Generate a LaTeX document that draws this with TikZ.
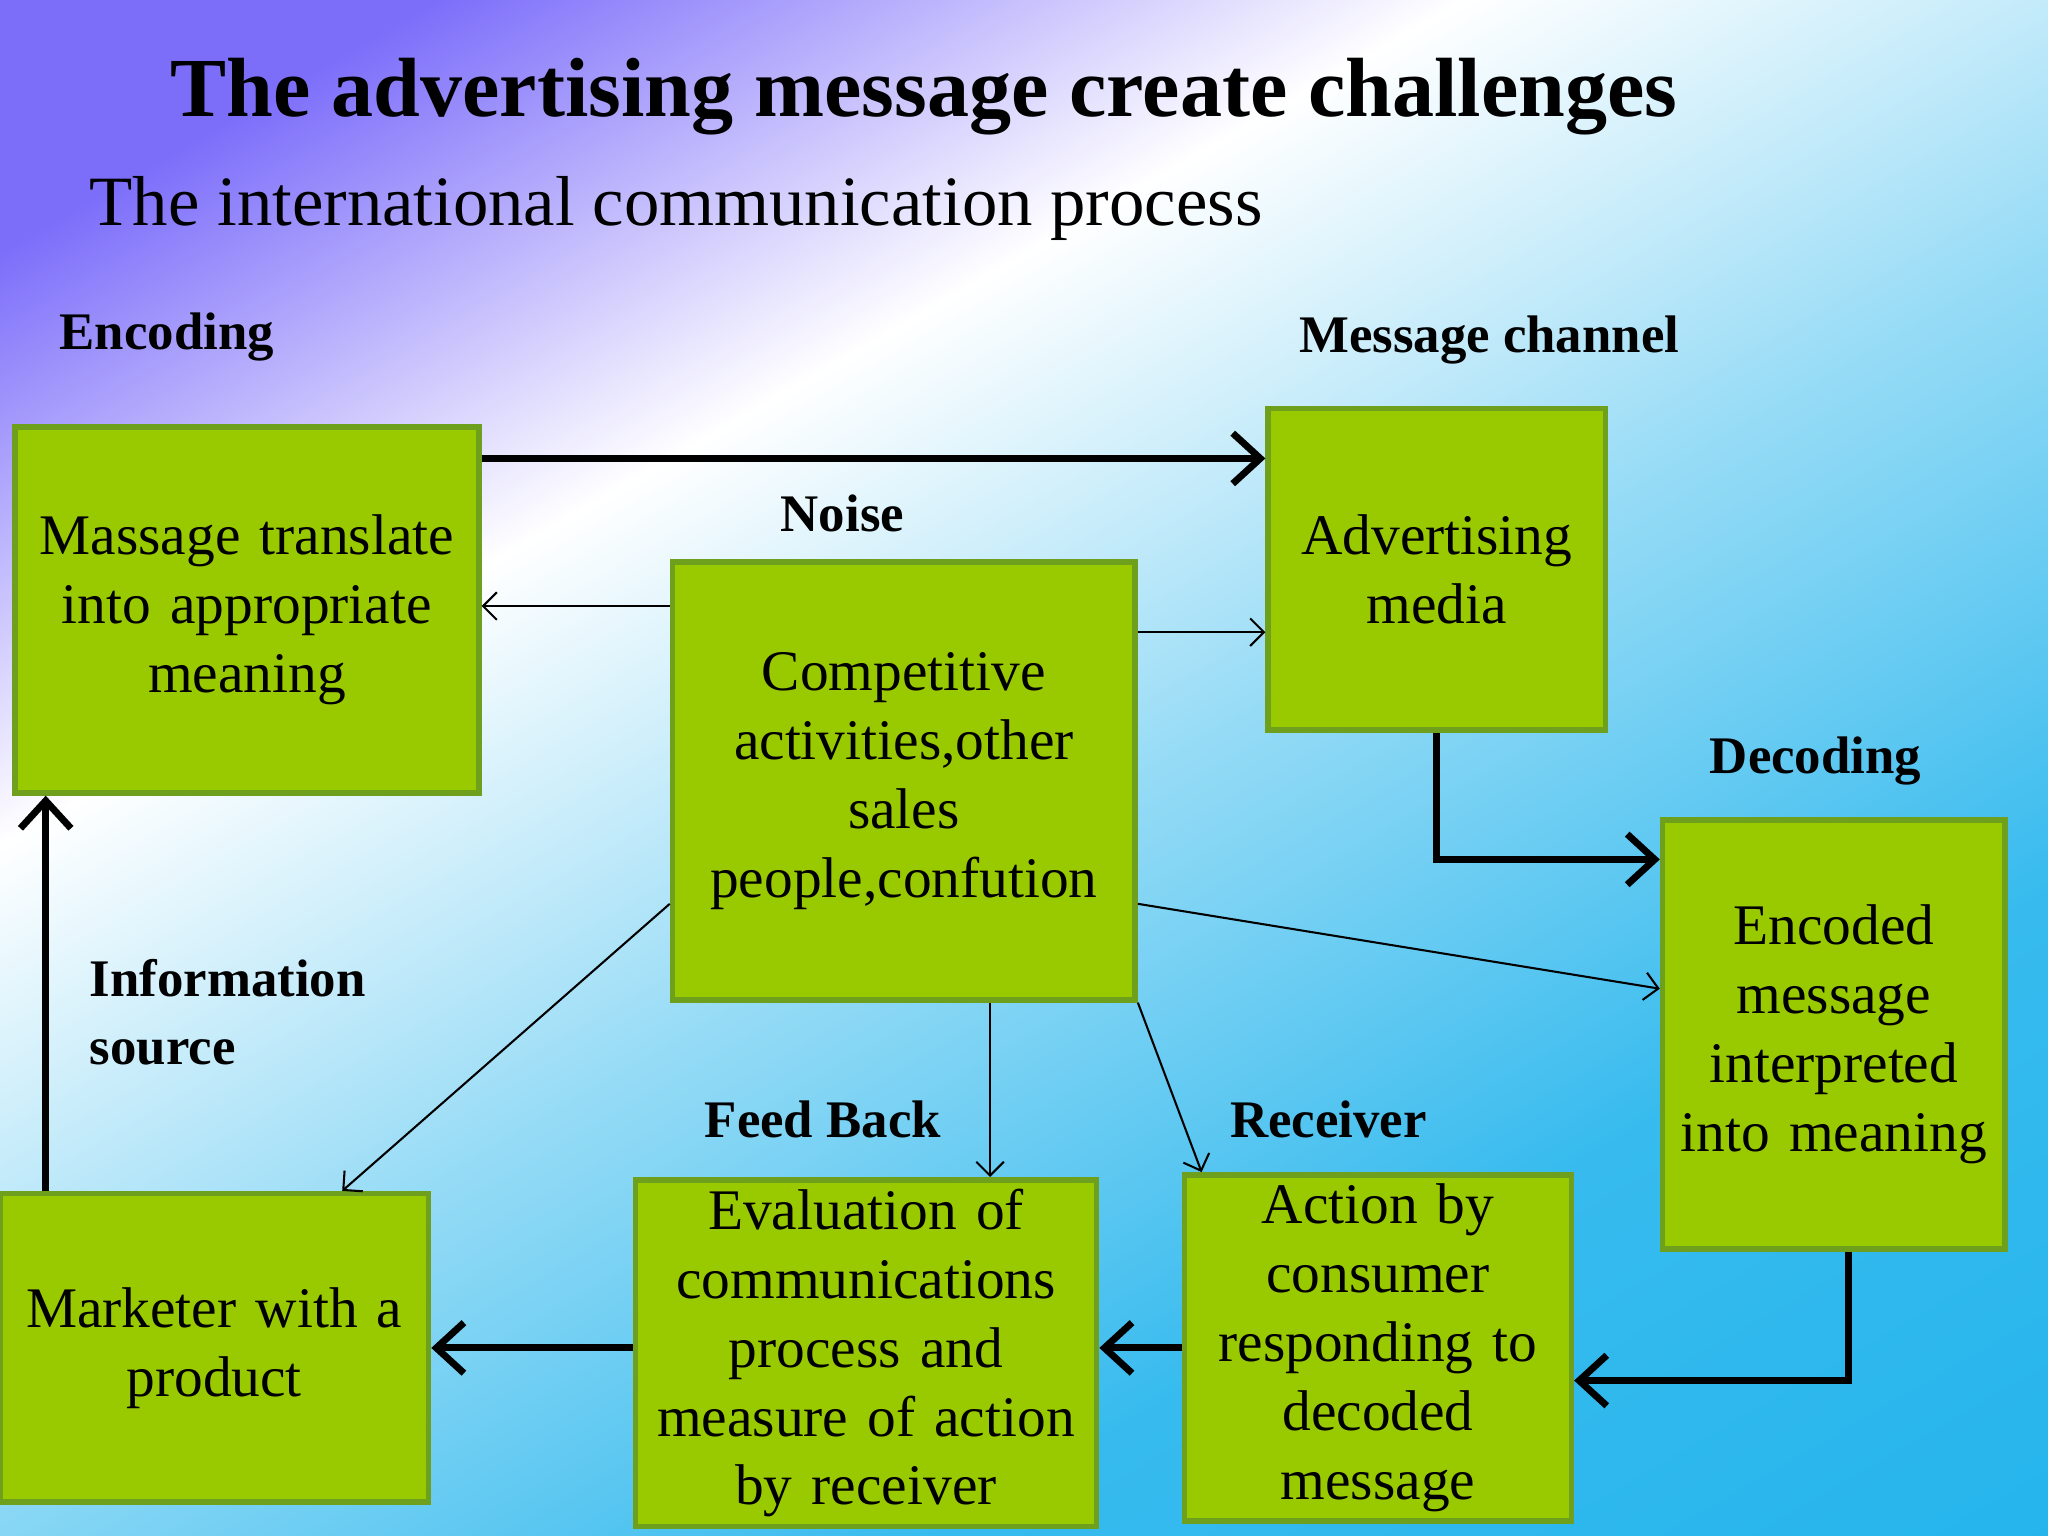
\documentclass[tikz,border=0pt]{standalone}
\usepackage{fontspec}
\setmainfont{Liberation Serif}
\usetikzlibrary{arrows.meta,calc}
\definecolor{boxgreen}{RGB}{153,202,0}
\definecolor{boxedge}{RGB}{110,160,30}
\definecolor{bgpurple}{RGB}{125,110,250}
\definecolor{bgcyan}{RGB}{20,175,235}
\pgfdeclarehorizontalshading{slide}{100bp}{color(0bp)=(bgpurple); color(22bp)=(bgpurple); color(37bp)=(white); color(52bp)=(bgcyan!45); color(68bp)=(bgcyan!85); color(100bp)=(bgcyan)}
\tikzset{
  box/.style={draw=boxedge, line width=1.2pt, fill=boxgreen, align=center,
    font=\fontsize{12.5}{15}\selectfont, inner sep=2pt},
  lab/.style={font=\fontsize{11.5}{15}\selectfont\bfseries, align=left, inner sep=0pt},
  thickarr/.style={line width=1.5pt, -{Straight Barb[length=6pt,width=11pt]}},
  thinarr/.style={line width=0.45pt, -{Straight Barb[length=3pt,width=6pt]}},
}
\begin{document}
\begin{tikzpicture}[x=0.01cm, y=-0.01cm]
  \useasboundingbox (0,0) rectangle (1568,1176);
  \shade[shading=slide, shading angle=-60] (0,0) rectangle (1568,1176);

  % headings
  \node[anchor=west, inner sep=0pt, font=\fontsize{18.3}{21}\selectfont\bfseries] (title) at (130,74)
    {The advertising message create challenges};
  \node[anchor=west, inner sep=0pt, font=\fontsize{15.4}{18}\selectfont] (sub) at (68,160)
    {The international communication process};

  % boxes
  \node[box, minimum width=3.55cm, minimum height=2.8cm, text width=3.3cm] (enc) at (189,467)
    {Massage translate\\ into appropriate\\ meaning};
  \node[box, minimum width=2.58cm, minimum height=2.46cm, text width=2.4cm] (media) at (1100,436)
    {Advertising\\ media\\[3.2em]};
  \node[box, minimum width=3.54cm, minimum height=3.35cm, text width=3.3cm] (noise) at (692,598)
    {Competitive\\ activities,other\\ sales\\ people,confution};
  \node[box, minimum width=2.62cm, minimum height=3.28cm, text width=2.45cm] (dec) at (1404,792)
    {Encoded\\ message\\ interpreted\\ into meaning};
  \node[box, minimum width=3.28cm, minimum height=2.36cm, text width=3.1cm] (mkt) at (164,1032)
    {Marketer with a\\ product};
  \node[box, minimum width=3.53cm, minimum height=2.62cm, text width=3.35cm] (eval) at (663,1036)
    {Evaluation of\\ communications\\ process and\\ measure of action\\ by receiver};
  \node[box, minimum width=2.96cm, minimum height=2.62cm, text width=2.8cm] (act) at (1055,1032)
    {Action by\\ consumer\\ responding to\\ decoded\\ message};

  % labels
  \node[lab, anchor=west] (lenc) at (45,258) {Encoding};
  \node[lab, anchor=west] (lchan) at (994,260) {Message channel};
  \node[lab] (lnoise) at (645,393) {Noise};
  \node[lab] (ldec) at (1390,583) {Decoding};
  \node[lab, anchor=west] (lsrc) at (68,775) {Information\\ source};
  \node[lab] (lfb) at (630,857) {Feed Back};
  \node[lab] (lrec) at (1017,857) {Receiver};

  % connectors
  \draw[thickarr] (enc.east |- 0,351) -- (media.west |- 0,351);
  \draw[thinarr] (noise.west |- 0,464) -- (enc.east |- 0,464);
  \draw[thinarr] (noise.east |- 0,484) -- (media.west |- 0,484);
  \draw[thickarr] (media.south) |- (dec.west |- 0,658);
  \draw[thinarr] (noise.east |- 0,692) -- (dec.west |- 0,757);
  \draw[thinarr] (noise.west |- 0,692) -- (mkt.north -| 262,0);
  \draw[thinarr] (noise.south -| 758,0) -- (eval.north -| 758,0);
  \draw[thinarr] (noise.south east) -- (act.north -| 920,0);
  \draw[thickarr] (dec.south -| 1415,0) |- (act.east |- 0,1057);
  \draw[thickarr] (act.west |- 0,1032) -- (eval.east |- 0,1032);
  \draw[thickarr] (eval.west |- 0,1032) -- (mkt.east |- 0,1032);
  \draw[thickarr] (mkt.north -| 35,0) -- (enc.south -| 35,0);
\end{tikzpicture}
\end{document}
